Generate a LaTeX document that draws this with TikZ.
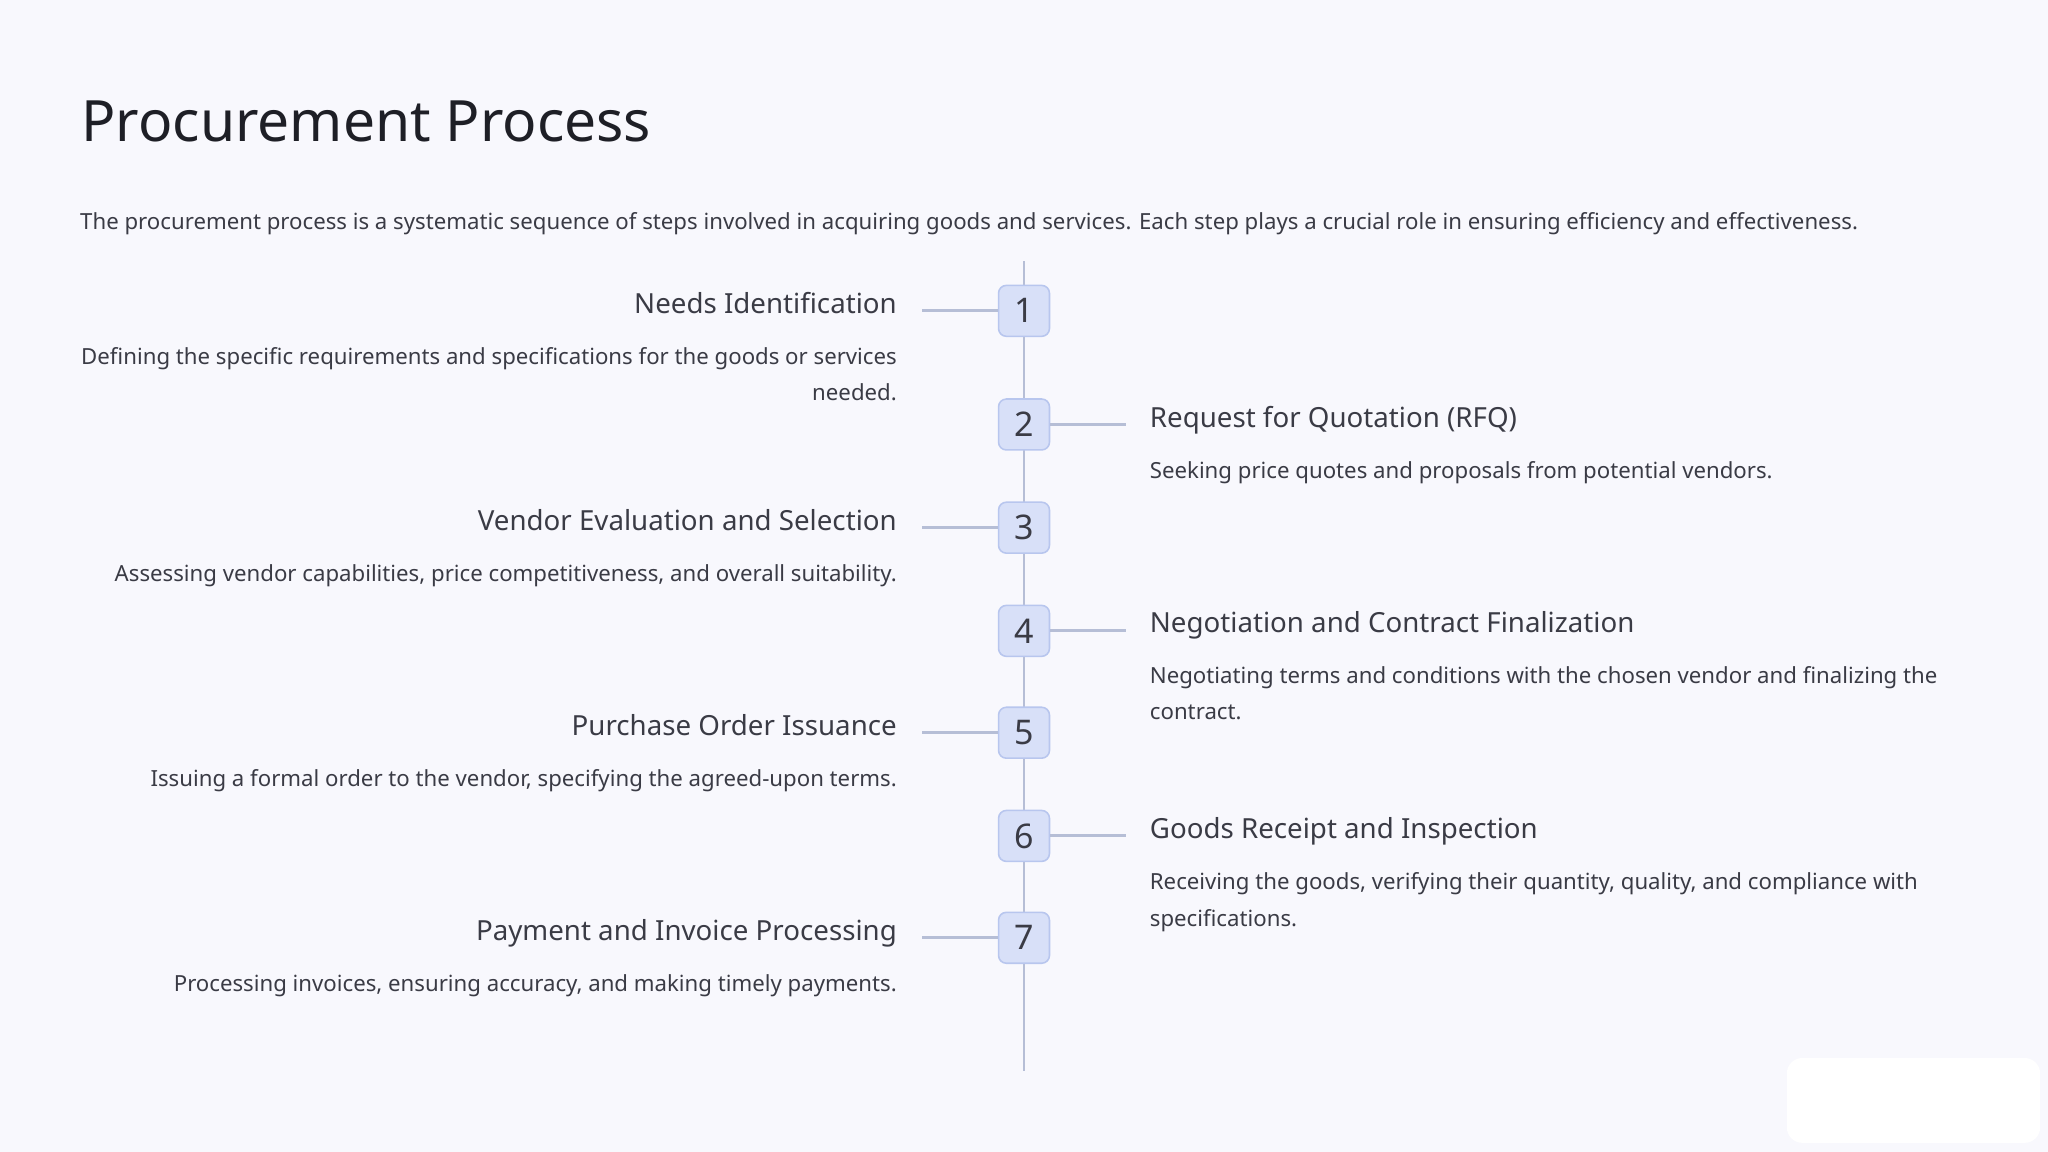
\documentclass[tikz,border=0pt]{standalone}
\usepackage{fontspec}
\setmainfont{Noto Sans}
\hyphenpenalty=10000
\exhyphenpenalty=10000
\definecolor{bg}{HTML}{F8F8FD}
\definecolor{boxfill}{HTML}{D8E0F8}
\definecolor{boxline}{HTML}{B8C6EE}
\definecolor{conn}{HTML}{B6BED6}
\definecolor{dark}{HTML}{1E1F26}
\definecolor{txt}{HTML}{3A3B45}
\tikzset{
  num/.style={draw=boxline,fill=boxfill,rounded corners=3pt,minimum width=19.5pt,minimum height=19.5pt,inner sep=0pt,font=\fontsize{13}{13}\selectfont,text=txt,line width=0.6pt},
  conline/.style={draw=conn,line width=1.1pt},
  headL/.style={anchor=base east,inner sep=0pt,font=\fontsize{10.6}{13}\selectfont,text=txt},
  headR/.style={anchor=base west,inner sep=0pt,font=\fontsize{10.6}{13}\selectfont,text=txt},
  descL/.style={anchor=base east,inner sep=0pt,text width=313pt,align=flush right,font=\fontsize{8.5}{14}\selectfont,text=txt},
  descR/.style={anchor=base west,inner sep=0pt,text width=312pt,align=flush left,font=\fontsize{8.5}{14}\selectfont,text=txt},
}
\begin{document}
\begin{tikzpicture}[x=0.5pt,y=-0.5pt]
\fill[bg] (0,0) rectangle (1568,882);
\useasboundingbox (0,0) rectangle (1568,882);
\fill[white,rounded corners=6pt] (1368,810) rectangle (1562,875);
\node[anchor=base west,inner sep=0pt,font=\fontsize{21.8}{26}\selectfont,text=dark] (title) at (62,108) {Procurement Process};
\node[anchor=base west,inner sep=0pt,font=\fontsize{8.5}{14}\selectfont,text=txt] (sub) at (61,176) {The procurement process is a systematic sequence of steps involved in acquiring goods and services. Each step plays a crucial role in ensuring efficiency and effectiveness.};
\coordinate (top) at (784,200);
\coordinate (bot) at (784,820);
\draw[conline] (top) -- (bot);
\foreach \i/\y in {1/238,2/325,3/404,4/483,5/561,6/640,7/718}{
  \node[num] (n\i) at (784,\y) {\i};
}
\foreach \i/\y in {1/238,3/404,5/561,7/718}{
  \coordinate (c\i) at (706,\y);
  \draw[conline] (c\i) -- (n\i.west);
}
\foreach \i/\y in {2/325,4/483,6/640}{
  \coordinate (c\i) at (862,\y);
  \draw[conline] (n\i.east) -- (c\i);
}
% left
\node[headL] (h1) at (687,240) {Needs Identification};
\node[descL] (d1) at (687,279) {Defining the specific requirements and specifications for the goods or services needed.};
\node[headL] (h3) at (687,406) {Vendor Evaluation and Selection};
\node[descL] (d3) at (687,445) {Assessing vendor capabilities, price competitiveness, and overall suitability.};
\node[headL] (h5) at (687,563) {Purchase Order Issuance};
\node[descL] (d5) at (687,602) {Issuing a formal order to the vendor, specifying the agreed-upon terms.};
\node[headL] (h7) at (687,720) {Payment and Invoice Processing};
\node[descL] (d7) at (687,759) {Processing invoices, ensuring accuracy, and making timely payments.};
% right
\node[headR] (h2) at (880,327) {Request for Quotation (RFQ)};
\node[descR] (d2) at (880,366) {Seeking price quotes and proposals from potential vendors.};
\node[headR] (h4) at (880,484) {Negotiation and Contract Finalization};
\node[descR] (d4) at (880,523) {Negotiating terms and conditions with the chosen vendor and finalizing the contract.};
\node[headR] (h6) at (880,642) {Goods Receipt and Inspection};
\node[descR] (d6) at (880,681) {Receiving the goods, verifying their quantity, quality, and compliance with specifications.};
\end{tikzpicture}
\end{document}
